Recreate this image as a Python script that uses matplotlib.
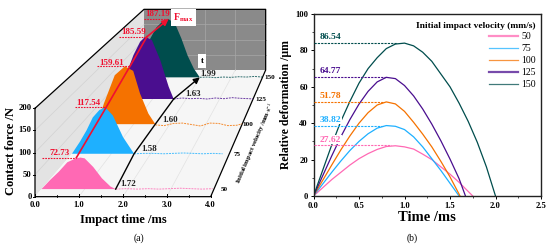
import matplotlib
matplotlib.use('Agg')
import matplotlib.pyplot as plt

plt.rcParams['font.family'] = ['Liberation Serif', 'DejaVu Serif']
plt.rcParams['mathtext.fontset'] = 'custom'
plt.rcParams['mathtext.rm'] = 'Liberation Serif'
plt.rcParams['mathtext.bf'] = 'Liberation Serif:bold'

velocities = [50, 75, 100, 125, 150]
colors = ['#ff69b4', '#1eb0ff', '#f57200', '#4a0e8f', '#004d4d']

# (a) contact force pulses
t_a = [
    [0, .2, .4, .6, .8, .9, 1.0, 1.2, 1.4, 1.6, 1.72],
    [0, .2, .37, .53, .7, .85, 1.04, 1.3, 1.58],
    [0, .18, .48, .76, .99, 1.18, 1.41, 1.6],
    [0, .28, .43, .63, .78, .98, 1.23, 1.48, 1.63],
    [0, .2, .4, .6, .8, .99, 1.2, 1.4, 1.6, 1.8, 1.99],
]
f_a = [
    [0, 21, 40, 62, 71, 72.73, 71, 51, 25, 6, 0],
    [0, 30, 59, 92, 111, 117.54, 97, 42, 0],
    [0, 57, 135, 159.61, 147, 84, 29, 0],
    [0, 91, 131, 171, 185.59, 176, 116, 37, 0],
    [0, 65, 124, 160, 180, 187.19, 172, 125, 70, 28, 0],
]
# force left after the pulse, 0.25 ms apart
tail_a = [
    [0, 1, 0, 1, 0, 1, 2, 1, 0, 1],
    [0, 1, 1, 0, 1, 2, 1, 0, 1, 0],
    [-2, -4, 2, 3, -1, -5, 3, 2, -4, -3, 1],
    [0, 3, 1, 2, 0, 3, 1, 4, 2, 1, 0],
    [0, 1, -1, 1, 0, 2, 1, 3, 1],
]
arrow_t = [.81, .87, .9, .83, .99]
dash_start = [0, .07, 0, 0, .2]
end_labels = ['1.72', '1.58', '1.60', '1.63', '1.99']
peak_labels = ['72.73', '117.54', '159.61', '185.59', '187.19']

# (b) relative deformation, one value every 0.1 ms
def_50 = [0, 4.5, 9, 13, 17, 20.5, 23.3, 25.6, 27.2, 27.6, 27, 25.8, 23, 20, 16, 12, 7.5, 2.5, 0]
def_75 = [0, 6.5, 13, 19.2, 25, 30, 34.2, 37.3, 38.7, 38.3, 36.5, 32.5, 27, 20.5, 14, 7, 0]
def_100 = [0, 8.5, 17, 25.3, 33, 40, 45.8, 50, 51.7, 50.6, 46.5, 40.5, 34, 27, 19, 10.5, 1, 0]
def_125 = [0, 11, 22, 32.5, 42, 50.5, 57.5, 62.7, 65.2, 64.5, 60.7, 55, 47.8, 39.5, 30.3, 20.3, 9.5, 0]
def_150 = [0, 14, 28, 41, 52, 62, 70, 76, 81, 83.5, 84, 82.5, 79, 74, 67, 60, 51, 41, 29.5, 16, 0]
deform = [def_50, def_75, def_100, def_125, def_150]
last_t = [1.75, 1.6, 1.61, 1.67, 2.0]
peak_lines = [27.8, 38.7, 51.7, 65.3, 84.2]
peak_ends = [.85, .78, .78, .8, .92]
def_labels = ['27.62', '38.82', '51.78', '64.77', '86.54']
legend_widths = [1.6, 0.9, 0.9, 1.6, 0.9]

fig = plt.figure(figsize=(5.5, 2.47), dpi=100)
bg = fig.add_axes([0, 0, 1, 1])
bg.set_xlim(0, 1650)
bg.set_ylim(741, 0)
bg.axis('off')


def depth(v):
    return 0.042 + (v - 50) / 100 * 0.876


def proj(t, f, d):
    # perspective box: front wall and back wall corners, zoomed px
    k = 0.45
    x0 = 105 + 131.75 * t
    y0 = 590 - 1.325 * f
    x1 = 432 + 91.25 * t
    y1 = 210 - 0.91 * f
    w = 1 + k * d
    return (x0 + d * ((1 + k) * x1 - x0)) / w, (y0 + d * ((1 + k) * y1 - y0)) / w


def poly(points, **kw):
    xs, ys = zip(*[proj(*p) for p in points])
    bg.fill(xs, ys, **kw)


def line(points, **kw):
    xs, ys = zip(*[proj(*p) for p in points])
    bg.plot(xs, ys, **kw)


poly([(0, 0, 0), (0, 200, 0), (0, 200, 1), (0, 0, 1)], color='#e3e3e3', lw=0)
poly([(0, 0, 1), (0, 200, 1), (4, 200, 1), (4, 0, 1)], color='#8a8a8a', lw=0)
poly([(0, 0, 0), (4, 0, 0), (4, 0, 1), (0, 0, 1)], color='#f6f6f6', lw=0)

for t in [1, 2, 3]:
    line([(t, 0, 1), (t, 200, 1)], color='#a8a8a8', lw=0.5)
    line([(t, 0, 0), (t, 0, 1)], color='#e2e2e2', lw=0.5)
for f in [50, 100, 150]:
    line([(0, f, 1), (4, f, 1)], color='#a8a8a8', lw=0.5)
    line([(0, f, 0), (0, f, 1)], color='#d2d2d2', lw=0.5)

line([(0, 200, 0), (0, 0, 0), (4, 0, 0), (4, 0, 1), (4, 200, 1), (0, 200, 1), (0, 200, 0)],
     color='black', lw=0.9, zorder=3)

for i in range(4, -1, -1):
    d = depth(velocities[i])
    pts = [(t, f, d) for t, f in zip(t_a[i], f_a[i])]
    poly(pts, color=colors[i], lw=0, zorder=4)
    tail_t = [t_a[i][-1] + 0.25 * n for n in range(len(tail_a[i]))]
    tail = [(min(t, 4), f, d) for t, f in zip(tail_t, tail_a[i])]
    line(tail, color=colors[i], lw=0.7, ls=(0, (2, 1)), alpha=0.8, zorder=4)
    peak = max(f_a[i])
    line([(dash_start[i], peak, d), (arrow_t[i], peak, d)], color='#f01030', lw=0.8,
         ls=(0, (1.5, 1)), zorder=6)

label_xy = [(180, 458), (265, 310), (335, 190), (400, 97), (472, 42)]
for txt, (x, y) in zip(peak_labels, label_xy):
    bg.text(x, y, txt, color='#f01030', fontsize=6.5, fontweight='bold', ha='center',
            va='center', zorder=8)
end_xy = [(383, 552), (447, 448), (510, 360), (578, 283), (625, 222)]
for txt, (x, y) in zip(end_labels, end_xy):
    bg.text(x, y, txt, color='#222222', fontsize=6.5, fontweight='bold', ha='center',
            va='center', zorder=8)

# arrows over the peaks and the pulse ends
red = [proj(t, max(f), depth(v)) for t, f, v in zip(arrow_t, f_a, velocities)]
bg.plot(*zip(*red[:-1]), color='#f01030', lw=1.2, zorder=7)
bg.annotate('', xy=red[-1], xytext=red[-2], zorder=7,
            arrowprops=dict(arrowstyle='-|>', color='#f01030', lw=1.2, mutation_scale=9,
                            shrinkA=0, shrinkB=0))
ends = [proj(t[-1], 0, depth(v)) for t, v in zip(t_a, velocities)]
bg.plot(*zip(*ends[:-1]), color='black', lw=1.0, zorder=7)
bg.annotate('', xy=ends[-1], xytext=ends[-2], zorder=7,
            arrowprops=dict(arrowstyle='-|>', color='black', lw=1.0, mutation_scale=9,
                            shrinkA=0, shrinkB=0))

bg.text(551, 52, r'$\mathbf{F_{max}}$', color='#f01030', fontsize=7, ha='center', va='center',
        bbox=dict(fc='white', ec='none', pad=1.5), zorder=8)
bg.text(606, 183, 't', color='black', fontsize=6.5, fontweight='bold', ha='center', va='center',
        bbox=dict(fc='white', ec='none', pad=2), zorder=8)

# hand drawn axis of the box
for t in [0, 1, 2, 3, 4]:
    x, y = proj(t, 0, 0)
    bg.text(x, 616, f'{t:.1f}', fontsize=6.2, fontweight='bold', ha='center', va='center')
    bg.plot([x, x], [y, y - 8], color='black', lw=0.7, zorder=3)
    if t < 4:
        xm, ym = proj(t + 0.5, 0, 0)
        bg.plot([xm, xm], [ym, ym - 4], color='black', lw=0.6, zorder=3)
for f in [0, 50, 100, 150, 200]:
    x, y = proj(0, f, 0)
    bg.text(x - 10, y, str(f), fontsize=6.2, fontweight='bold', ha='right', va='center')
    bg.plot([x - 6, x], [y, y], color='black', lw=0.7)
for v, (x, y) in zip(velocities, [(672, 567), (710, 462), (745, 373), (783, 298), (808, 233)]):
    bg.text(x, y, str(v), fontsize=5.2, fontweight='bold', ha='center', va='center')
bg.text(370, 660, 'Impact time /ms', fontsize=9, fontweight='bold', ha='center', va='center')
bg.text(32, 452, 'Contact force /N', fontsize=9, fontweight='bold', rotation=90, ha='center', va='center')
bg.text(768, 432, r'Initial impact velocity /mm$\cdot$s$^{-1}$', fontsize=4.8, fontweight='bold',
        rotation=67, ha='center', va='center')
bg.text(416, 714, '(a)', fontsize=7, ha='center', va='center')

# panel (b)
ax = fig.add_axes([313.5 / 550, 1 - 196 / 247, 227.5 / 550, 182 / 247])
for i in range(5):
    tt = [n * 0.1 for n in range(len(deform[i]) - 1)] + [last_t[i]]
    ax.plot(tt, deform[i], color=colors[i], lw=0.9, label=str(velocities[i]), zorder=2)
    ax.plot([0, peak_ends[i]], [peak_lines[i]] * 2, color=colors[i], lw=0.8, ls=(0, (2, 1)), zorder=3)
    ax.text(0.07, peak_lines[i] + 1, def_labels[i], color=colors[i], fontsize=6.8, fontweight='bold',
            ha='left', va='bottom', zorder=5,
            bbox=dict(fc='white', ec='none', pad=0.4))
ax.set_xlim(0, 2.5)
ax.set_ylim(0, 100)
ax.set_xticks([0, .5, 1, 1.5, 2, 2.5])
ax.set_xticklabels(['0.0', '0.5', '1.0', '1.5', '2.0', '2.5'])
ax.set_yticks([0, 20, 40, 60, 80, 100])
ax.set_xticks([.25, .75, 1.25, 1.75, 2.25], minor=True)
ax.set_yticks([10, 30, 50, 70, 90], minor=True)
ax.tick_params(which='major', length=2.5, width=0.7, labelsize=6.2, pad=1.5)
ax.tick_params(which='minor', length=1.3, width=0.5)
for lab in ax.get_xticklabels() + ax.get_yticklabels():
    lab.set_fontweight('bold')
for s in ax.spines.values():
    s.set_linewidth(1.0)
    s.set_color('#222222')
ax.set_xlabel('Time /ms', fontsize=10.5, fontweight='bold', labelpad=1)
ax.set_ylabel('Relative deformation /µm', fontsize=8.5, fontweight='bold', labelpad=2)
leg = ax.legend(loc='upper right', bbox_to_anchor=(0.995, 0.98), frameon=False, fontsize=7,
                title='Initial impact velocity (mm/s)', alignment='right', labelspacing=0.3,
                handlelength=3.0, handletextpad=0.3, borderpad=0.2, borderaxespad=0.2,
                title_fontproperties={'size': 6.8, 'weight': 'bold'})
for ln, lw in zip(leg.get_lines(), legend_widths):
    ln.set_linewidth(lw)
    ln.set_alpha(0.75)
fig.text(412 / 550, 1 - 238 / 247, '(b)', fontsize=7, ha='center', va='center')

fig.savefig('out.png', dpi=100)
